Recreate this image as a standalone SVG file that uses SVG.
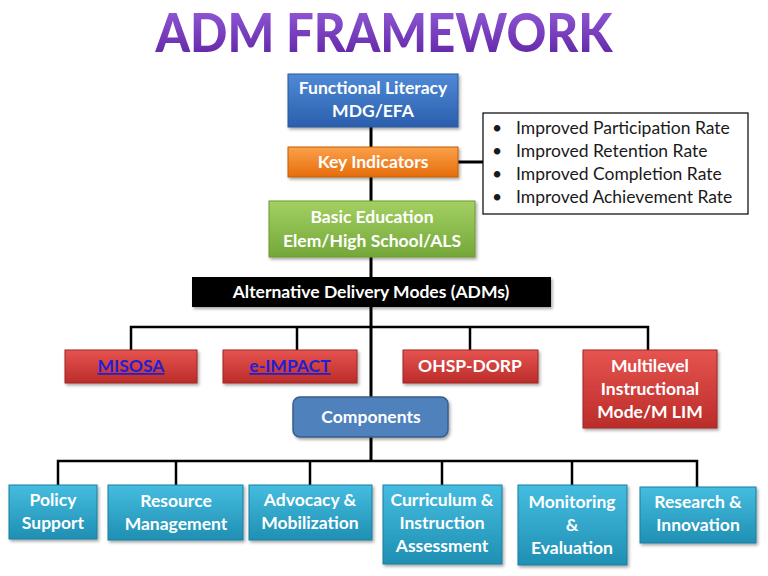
<svg xmlns="http://www.w3.org/2000/svg" width="768" height="576" viewBox="0 0 768 576">
<defs>
<linearGradient id="gTitle" x1="0" y1="0" x2="0" y2="1"><stop offset="0" stop-color="#9a62e0"/><stop offset="1" stop-color="#5a1f9e"/></linearGradient>
<linearGradient id="gBlue" x1="0" y1="0" x2="0" y2="1"><stop offset="0" stop-color="#4f8ad6"/><stop offset="1" stop-color="#2b5fae"/></linearGradient>
<linearGradient id="gOrange" x1="0" y1="0" x2="0" y2="1"><stop offset="0" stop-color="#fba14a"/><stop offset="1" stop-color="#e66d0c"/></linearGradient>
<linearGradient id="gGreen" x1="0" y1="0" x2="0" y2="1"><stop offset="0" stop-color="#a4d062"/><stop offset="1" stop-color="#74a73a"/></linearGradient>
<linearGradient id="gRed" x1="0" y1="0" x2="0" y2="1"><stop offset="0" stop-color="#e65450"/><stop offset="1" stop-color="#bb2c29"/></linearGradient>
<linearGradient id="gTeal" x1="0" y1="0" x2="0" y2="1"><stop offset="0" stop-color="#45bde0"/><stop offset="1" stop-color="#1f8fb3"/></linearGradient>
<filter id="sh" x="-10%" y="-10%" width="125%" height="135%"><feDropShadow dx="1.5" dy="2" stdDeviation="1.5" flood-color="#000" flood-opacity="0.35"/></filter>
<style>
.t{font-family:Lato,"Open Sans","Liberation Sans",sans-serif;font-weight:bold;font-size:17.5px;fill:#fff;text-anchor:middle}
.lnk{fill:#1f1fd6;text-decoration:underline}
.b{font-family:Lato,"Open Sans","Liberation Sans",sans-serif;font-size:17.5px;fill:#1a1a1a}
.bx{filter:url(#sh)}
.c{stroke:#000;fill:none;stroke-width:2.5}
.ct{stroke:#000;fill:none;stroke-width:3}
</style>
</defs>
<rect width="768" height="576" fill="#fff"/>
<text x="384" y="52" font-family="Lato,'Open Sans','Liberation Sans',sans-serif" font-weight="900" font-size="54" fill="url(#gTitle)" text-anchor="middle" textLength="457" lengthAdjust="spacingAndGlyphs">ADM FRAMEWORK</text>

<g id="connectors">
<line class="ct" x1="371" y1="127" x2="371" y2="398"/>
<line class="ct" x1="371" y1="437" x2="371" y2="462"/>
<line class="ct" x1="458" y1="162" x2="483" y2="162"/>
<polyline class="c" points="131,350 131,327 648,327 648,350"/>
<line class="c" x1="297" y1="327" x2="297" y2="350"/>
<line class="c" x1="470" y1="327" x2="470" y2="350"/>
<polyline class="c" points="58,485 58,461 697,461 697,487"/>
<line class="c" x1="176" y1="461" x2="176" y2="485"/>
<line class="c" x1="310" y1="461" x2="310" y2="485"/>
<line class="c" x1="442" y1="461" x2="442" y2="485"/>
<line class="c" x1="572" y1="461" x2="572" y2="485"/>
</g>

<g id="functional-literacy"><rect class="bx" x="288" y="74" width="170" height="53" fill="url(#gBlue)" stroke="#2a5796"/><text class="t" x="373" y="94">Functional Literacy</text><text class="t" x="373" y="117">MDG/EFA</text></g>
<g id="key-indicators"><rect class="bx" x="288" y="147" width="170" height="30" fill="url(#gOrange)" stroke="#c25e0a"/><text class="t" x="373" y="168">Key Indicators</text></g>
<g id="indicator-list"><rect x="483" y="113" width="265" height="101" fill="#fff" stroke="#000" stroke-width="1.2"/>
<text class="b" x="492" y="134">•</text><text class="b" x="516" y="134">Improved Participation Rate</text>
<text class="b" x="492" y="157">•</text><text class="b" x="516" y="157">Improved Retention Rate</text>
<text class="b" x="492" y="180">•</text><text class="b" x="516" y="180">Improved Completion Rate</text>
<text class="b" x="492" y="203">•</text><text class="b" x="516" y="203">Improved Achievement Rate</text></g>
<g id="basic-education"><rect class="bx" x="269" y="201" width="206" height="56" fill="url(#gGreen)" stroke="#6a9a32"/><text class="t" x="372" y="223">Basic Education</text><text class="t" x="372" y="247">Elem/High School/ALS</text></g>
<g id="adms"><rect class="bx" x="192" y="277" width="359" height="30" fill="#000"/><text class="t" x="371" y="298">Alternative Delivery Modes (ADMs)</text></g>
<g id="misosa"><rect class="bx" x="65" y="350" width="132" height="33" fill="url(#gRed)" stroke="#9e2624"/><text class="t lnk" x="131" y="372">MISOSA</text></g>
<g id="e-impact"><rect class="bx" x="223" y="350" width="134" height="33" fill="url(#gRed)" stroke="#9e2624"/><text class="t lnk" x="290" y="372">e-IMPACT</text></g>
<g id="ohsp-dorp"><rect class="bx" x="403" y="350" width="135" height="33" fill="url(#gRed)" stroke="#9e2624"/><text class="t" x="470" y="372">OHSP-DORP</text></g>
<g id="multilevel"><rect class="bx" x="583" y="350" width="134" height="78" fill="url(#gRed)" stroke="#9e2624"/><text class="t" x="650" y="372">Multilevel</text><text class="t" x="650" y="395">Instructional</text><text class="t" x="650" y="418">Mode/M LIM</text></g>
<g id="components"><rect class="bx" x="293" y="397" width="155" height="40" rx="7" fill="#4f81bd" stroke="#385d8a" stroke-width="1.5"/><text class="t" x="371" y="423">Components</text></g>
<g id="policy-support"><rect class="bx" x="9" y="485" width="88" height="54" fill="url(#gTeal)" stroke="#1b7fa0"/><text class="t" x="53" y="506">Policy</text><text class="t" x="53" y="529">Support</text></g>
<g id="resource-management"><rect class="bx" x="108" y="485" width="135" height="55" fill="url(#gTeal)" stroke="#1b7fa0"/><text class="t" x="176" y="507">Resource</text><text class="t" x="176" y="530">Management</text></g>
<g id="advocacy"><rect class="bx" x="249" y="485" width="123" height="55" fill="url(#gTeal)" stroke="#1b7fa0"/><text class="t" x="310" y="506">Advocacy &amp;</text><text class="t" x="310" y="529">Mobilization</text></g>
<g id="curriculum"><rect class="bx" x="383" y="485" width="119" height="79" fill="url(#gTeal)" stroke="#1b7fa0"/><text class="t" x="442" y="506">Curriculum &amp;</text><text class="t" x="442" y="529">Instruction</text><text class="t" x="442" y="552">Assessment</text></g>
<g id="monitoring"><rect class="bx" x="518" y="485" width="109" height="80" fill="url(#gTeal)" stroke="#1b7fa0"/><text class="t" x="572" y="508">Monitoring</text><text class="t" x="572" y="531">&amp;</text><text class="t" x="572" y="554">Evaluation</text></g>
<g id="research"><rect class="bx" x="640" y="487" width="116" height="56" fill="url(#gTeal)" stroke="#1b7fa0"/><text class="t" x="698" y="508">Research &amp;</text><text class="t" x="698" y="531">Innovation</text></g>
</svg>
